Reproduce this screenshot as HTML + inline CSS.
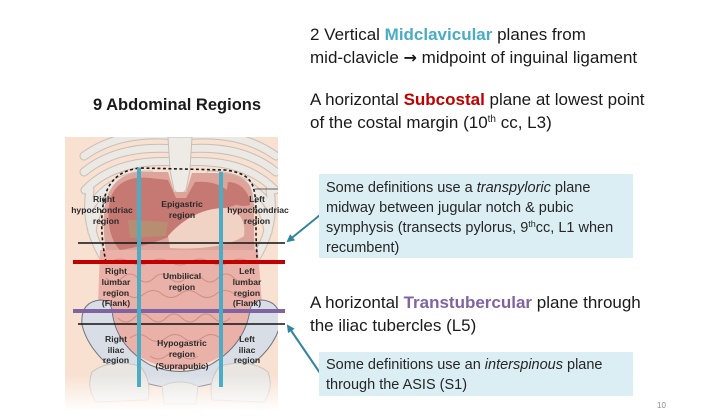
<!DOCTYPE html>
<html><head><meta charset="utf-8">
<style>
html,body{margin:0;padding:0;background:#fff;}
body{width:704px;height:416px;position:relative;overflow:hidden;font-family:"Liberation Sans",Arial,sans-serif;color:#1a1a1a;}
.t{position:absolute;font-size:17px;line-height:23px;white-space:nowrap;}
.t sup,.c sup{font-size:10px;line-height:0;vertical-align:6px;}
.c{position:absolute;left:319px;width:307px;background:#dbeef4;font-size:14.5px;line-height:20px;color:#262626;padding-left:7px;white-space:nowrap;box-sizing:content-box;}
.c sup{font-size:9px;vertical-align:5px;}
.ar{font-family:"DejaVu Sans",sans-serif;font-weight:bold;font-size:16px;}
svg{position:absolute;left:0;top:0;}
</style></head><body>
<svg width="704" height="416" viewBox="0 0 704 416">
<defs>
<linearGradient id="fade" x1="0" y1="0" x2="0" y2="1">
<stop offset="0" stop-color="#fff" stop-opacity="0"/>
<stop offset="1" stop-color="#fff" stop-opacity="1"/>
</linearGradient>
<clipPath id="img"><rect x="65" y="137" width="213" height="272"/></clipPath>
<marker id="ah" markerWidth="8" markerHeight="8" refX="6" refY="4" orient="auto" markerUnits="userSpaceOnUse">
<path d="M0,0 L8,4 L0,8 Z" fill="#31859c"/>
</marker>
</defs>
<g clip-path="url(#img)">
<!-- background skin -->
<rect x="65" y="137" width="213" height="272" fill="#f8e1d1"/>
<!-- ribs -->
<g fill="none" stroke-linecap="round">
<g stroke="#c7beb6" stroke-width="9">
<path d="M176,136 Q120,130 84,156"/>
<path d="M176,149 Q118,144 84,172"/>
<path d="M176,162 Q116,158 85,190"/>
<path d="M150,175 Q110,175 88,210"/>
<path d="M120,190 Q96,200 92,232"/>
<path d="M184,136 Q240,130 276,156"/>
<path d="M184,149 Q242,144 276,172"/>
<path d="M184,162 Q244,158 275,190"/>
<path d="M210,175 Q250,175 272,210"/>
<path d="M240,190 Q264,200 268,232"/>
<path d="M90,190 Q84,225 104,258"/>
<path d="M270,190 Q276,225 256,258"/>
</g>
<g stroke="#ece8e4" stroke-width="7">
<path d="M176,136 Q120,130 84,156"/>
<path d="M176,149 Q118,144 84,172"/>
<path d="M176,162 Q116,158 85,190"/>
<path d="M150,175 Q110,175 88,210"/>
<path d="M120,190 Q96,200 92,232"/>
<path d="M184,136 Q240,130 276,156"/>
<path d="M184,149 Q242,144 276,172"/>
<path d="M184,162 Q244,158 275,190"/>
<path d="M210,175 Q250,175 272,210"/>
<path d="M240,190 Q264,200 268,232"/>
<path d="M90,190 Q84,225 104,258"/>
<path d="M270,190 Q276,225 256,258"/>
</g>
</g>
<!-- sternum -->
<path d="M168,137 L192,137 L190,170 L186,190 L180,196 L174,190 L170,170 Z" fill="#eeebe7" stroke="#c7beb6" stroke-width="1"/>
<!-- organ area base -->
<path d="M108,262 C102,235 102,205 110,190 C117,178 127,173 140,172 L168,172 L174,192 L186,192 L192,173 L225,173 C238,175 246,179 250,186 C255,197 254,215 254,235 L255,258 Z" fill="#dca49a"/>
<!-- liver -->
<path d="M110,200 C115,182 130,176 150,178 L168,180 L176,198 L186,198 L195,182 C215,180 232,188 236,205 C220,210 200,212 190,222 C175,238 150,245 120,250 C110,240 106,220 110,200 Z" fill="#c67873"/>
<path d="M228,182 C240,182 250,192 250,205 C240,208 232,204 226,196 Z" fill="#c67873"/>
<!-- gallbladder -->
<path d="M128,220 L168,222 L166,236 L130,238 Z" fill="#b59273" opacity="0.85"/>
<!-- stomach -->
<path d="M168,236 C180,222 200,208 225,208 C240,210 246,222 244,236 C230,246 200,250 170,248 Z" fill="#f1d3c6"/>
<!-- intestines -->
<path d="M100,250 L258,250 L262,305 Q240,362 180,370 Q120,362 98,305 Z" fill="#eab1a9"/>
<g fill="none" stroke="#cd8d86" stroke-width="1">
<path d="M110,262 q10,-6 20,0 t20,0 t20,0 t20,0 t20,0 t20,0 t20,0"/>
<path d="M106,278 q8,8 16,0 t16,0 t16,0 t16,0 t16,0 t16,0 t16,0 t16,0 t16,0"/>
<path d="M108,294 q9,-7 18,0 t18,0 t18,0 t18,0 t18,0 t18,0 t18,0 t18,0"/>
<path d="M118,318 q8,8 16,0 t16,0 t16,0 t16,0 t16,0 t16,0 t16,0"/>
<path d="M130,338 q9,-7 18,0 t18,0 t18,0 t18,0 t18,0"/>
<path d="M150,356 q8,6 16,0 t16,0 t16,0"/>
</g>
<!-- pelvis -->
<path d="M82,325 Q80,302 100,300 Q110,300 112,310 Q115,345 150,365 Q180,378 210,365 Q245,345 250,310 Q252,300 262,300 Q282,302 280,325 Q275,345 255,362 Q220,388 180,388 Q140,388 105,362 Q87,345 82,325 Z" fill="#d9dee6" stroke="#6f7580" stroke-width="1"/>
<!-- lower bones -->
<g fill="#e9e6e2" stroke="#c9c3bd" stroke-width="1">
<path d="M92,372 Q110,358 140,366 Q152,380 148,400 L96,402 Q86,388 92,372 Z"/>
<path d="M268,372 Q250,358 220,366 Q208,380 212,400 L264,402 Q274,388 268,372 Z"/>
<path d="M162,386 Q180,378 198,386 L196,404 L164,404 Z"/>
</g>
<rect x="60" y="375" width="230" height="36" fill="url(#fade)"/>
</g>
<!-- dashed costal margin -->
<path d="M106,262 C100,235 100,205 108,188 C115,175 125,170 140,168 L225,170 C240,172 248,176 252,184 C257,195 256,215 256,235 L257,258" fill="none" stroke="#1a1a1a" stroke-width="1.6" stroke-dasharray="3 2.5"/>
<line x1="255" y1="189" x2="278" y2="189" stroke="#333" stroke-width="0.8"/>
<!-- labels -->
<g font-family="Liberation Sans, Arial, sans-serif" font-weight="bold" font-size="8.6" fill="#2a2a2a" text-anchor="middle">
<text x="104" y="202">Right</text><text x="102" y="213">hypochondriac</text><text x="106" y="224">region</text>
<text x="182" y="207">Epigastric</text><text x="182" y="218">region</text>
<text x="257" y="202">Left</text><text x="258" y="213">hypochondriac</text><text x="257" y="224">region</text>
<text x="116" y="274">Right</text><text x="116" y="285">lumbar</text><text x="116" y="296">region</text><text x="116" y="306">(Flank)</text>
<text x="182" y="279">Umbilical</text><text x="182" y="290">region</text>
<text x="247" y="274">Left</text><text x="247" y="285">lumbar</text><text x="247" y="296">region</text><text x="247" y="306">(Flank)</text>
<text x="116" y="342">Right</text><text x="116" y="353">iliac</text><text x="116" y="363">region</text>
<text x="182" y="346">Hypogastric</text><text x="182" y="357">region</text><text x="182" y="369">(Suprapubic)</text>
<text x="247" y="342">Left</text><text x="247" y="353">iliac</text><text x="247" y="363">region</text>
</g>
<!-- plane lines -->
<line x1="78" y1="243" x2="285" y2="243" stroke="#111" stroke-width="1.5"/>
<line x1="78" y1="324" x2="285" y2="324" stroke="#111" stroke-width="1.5"/>
<rect x="73" y="260" width="212" height="4" fill="#c00000"/>
<rect x="73" y="309" width="212" height="4" fill="#8064a2"/>
<rect x="137" y="168" width="4" height="219" fill="#4bacc6"/>
<rect x="219" y="172" width="4" height="215" fill="#4bacc6"/>
<!-- arrows -->
<line x1="320" y1="215" x2="288" y2="241" stroke="#31859c" stroke-width="2" marker-end="url(#ah)"/>
<line x1="320" y1="373" x2="288" y2="326" stroke="#31859c" stroke-width="2" marker-end="url(#ah)"/>
</svg>

<div class="t" style="left:310px;top:23px;">2 Vertical <b style="color:#4bacc6">Midclavicular</b> planes from<br>mid-clavicle <span class="ar">&#8594;</span> midpoint of inguinal ligament</div>
<div class="t" style="left:310px;top:88px;">A horizontal <b style="color:#c00000">Subcostal</b> plane at lowest point<br>of the costal margin (10<sup>th</sup> cc, L3)</div>
<div class="t" style="left:310px;top:291px;">A horizontal <b style="color:#8064a2">Transtubercular</b> plane through<br>the iliac tubercles (L5)</div>

<div style="position:absolute;left:77px;top:95px;width:200px;text-align:center;font-weight:bold;font-size:16.5px;line-height:20px;">9 Abdominal Regions</div>

<div class="c" style="top:174px;height:80px;padding-top:4px;">Some definitions use a <i>transpyloric</i> plane<br>midway between jugular notch &amp; pubic<br>symphysis (transects pylorus, 9<sup>th</sup>cc, L1 when<br>recumbent)</div>
<div class="c" style="top:352px;height:41px;padding-top:3px;">Some definitions use an <i>interspinous</i> plane<br>through the ASIS (S1)</div>

<div style="position:absolute;left:657px;top:401px;font-size:8px;line-height:10px;color:#8c8c8c;">10</div>
</body></html>
